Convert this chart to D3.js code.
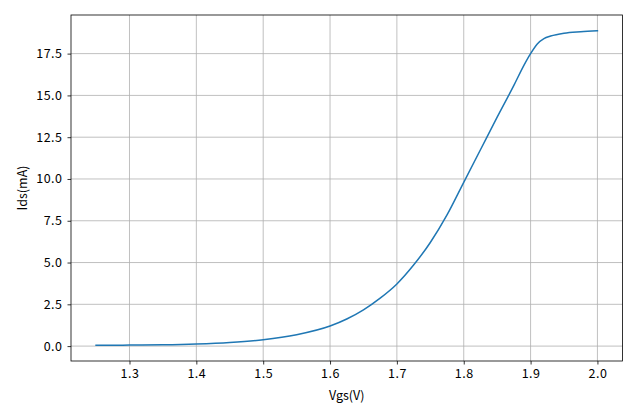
<!DOCTYPE html>
<html>
<head>
<meta charset="utf-8">
<script src="https://cdn.jsdelivr.net/npm/d3@7"></script>
<style>
body{margin:0;background:#fff}
text{font-family:"Noto Sans CJK SC","DejaVu Sans",sans-serif;fill:#000}
</style>
</head>
<body>
<div id="chart"></div>
<script>
// Vgs (V) sweep and drain current Ids (mA)
const vgs=[1.25,1.30,1.35,1.40,1.45,1.50,1.55,1.60,1.625,1.65,1.675,1.70,1.725,1.75,1.775,1.80,1.825,1.85,1.875,1.89,1.90,1.91,1.92,1.93,1.95,1.975,2.00]
const ids=[0.05,0.06,0.08,0.13,0.22,0.38,0.68,1.20,1.62,2.17,2.87,3.72,4.85,6.2,7.85,9.8,11.75,13.7,15.6,16.8,17.5,18.08,18.4,18.55,18.72,18.81,18.87]
const xTicks=[1.3,1.4,1.5,1.6,1.7,1.8,1.9,2.0]
const yTicks=[0,2.5,5,7.5,10,12.5,15,17.5]

const W=640,H=409
const margin={top:15,right:17.5,bottom:48,left:71}
const width=W-margin.left-margin.right,
	height=H-margin.top-margin.bottom

const data=vgs.map((v,i)=>({x:v,y:ids[i]}))

const svg=d3.select('#chart').append('svg')
	.attr('width',W)
	.attr('height',H)
const g=svg.append('g')
	.attr('transform','translate('+margin.left+','+margin.top+')')

// matplotlib style 5% margins
const xr=d3.extent(vgs),yr=d3.extent(ids)
const xPad=(xr[1]-xr[0])*0.05,yPad=(yr[1]-yr[0])*0.05
const xScale=d3.scaleLinear()
	.domain([xr[0]-xPad,xr[1]+xPad])
	.range([0,width])
const yScale=d3.scaleLinear()
	.domain([yr[0]-yPad,yr[1]+yPad])
	.range([height,0])

// grid
g.append('g').selectAll('line')
	.data(xTicks)
	.join('line')
	.attr('x1',d=>xScale(d)).attr('x2',d=>xScale(d))
	.attr('y1',0).attr('y2',height)
	.attr('stroke','#b0b0b0').attr('stroke-width',0.8)
g.append('g').selectAll('line')
	.data(yTicks)
	.join('line')
	.attr('y1',d=>yScale(d)).attr('y2',d=>yScale(d))
	.attr('x1',0).attr('x2',width)
	.attr('stroke','#b0b0b0').attr('stroke-width',0.8)

const line=d3.line()
	.x(d=>xScale(d.x))
	.y(d=>yScale(d.y))
	.curve(d3.curveMonotoneX)

g.append('path')
	.datum(data)
	.attr('fill','none')
	.attr('stroke','#1f77b4')
	.attr('stroke-width',1.5)
	.attr('stroke-linecap','square')
	.attr('d',line)

const xAxis=d3.axisBottom(xScale)
	.tickValues(xTicks)
	.tickFormat(d3.format('.1f'))
	.tickSizeInner(3.5).tickSizeOuter(0).tickPadding(5)
const yAxis=d3.axisLeft(yScale)
	.tickValues(yTicks)
	.tickFormat(d3.format('.1f'))
	.tickSizeInner(3.5).tickSizeOuter(0).tickPadding(5)

g.append('g')
	.attr('transform',`translate(0,${height})`)
	.call(xAxis)
	.call(a=>a.select('.domain').remove())
g.append('g')
	.call(yAxis)
	.call(a=>a.select('.domain').remove())

g.selectAll('.tick line').attr('stroke','#000').attr('stroke-width',0.8)
g.selectAll('.tick text')
	.attr('font-size',12.5)
	.attr('font-family','"Noto Sans CJK SC",sans-serif')
	.style('letter-spacing','0.5px')

// frame
g.append('rect')
	.attr('width',width).attr('height',height)
	.attr('fill','none').attr('stroke','#000').attr('stroke-width',0.8)

svg.append('text')
	.attr('x',margin.left+width/2)
	.attr('y',H-9)
	.attr('text-anchor','middle')
	.attr('font-size',12.5)
	.text('Vgs(V)')
svg.append('text')
	.attr('transform',`translate(27,${margin.top+height/2}) rotate(-90)`)
	.attr('text-anchor','middle')
	.attr('font-size',12.5)
	.text('Ids(mA)')
</script>
</body>
</html>
